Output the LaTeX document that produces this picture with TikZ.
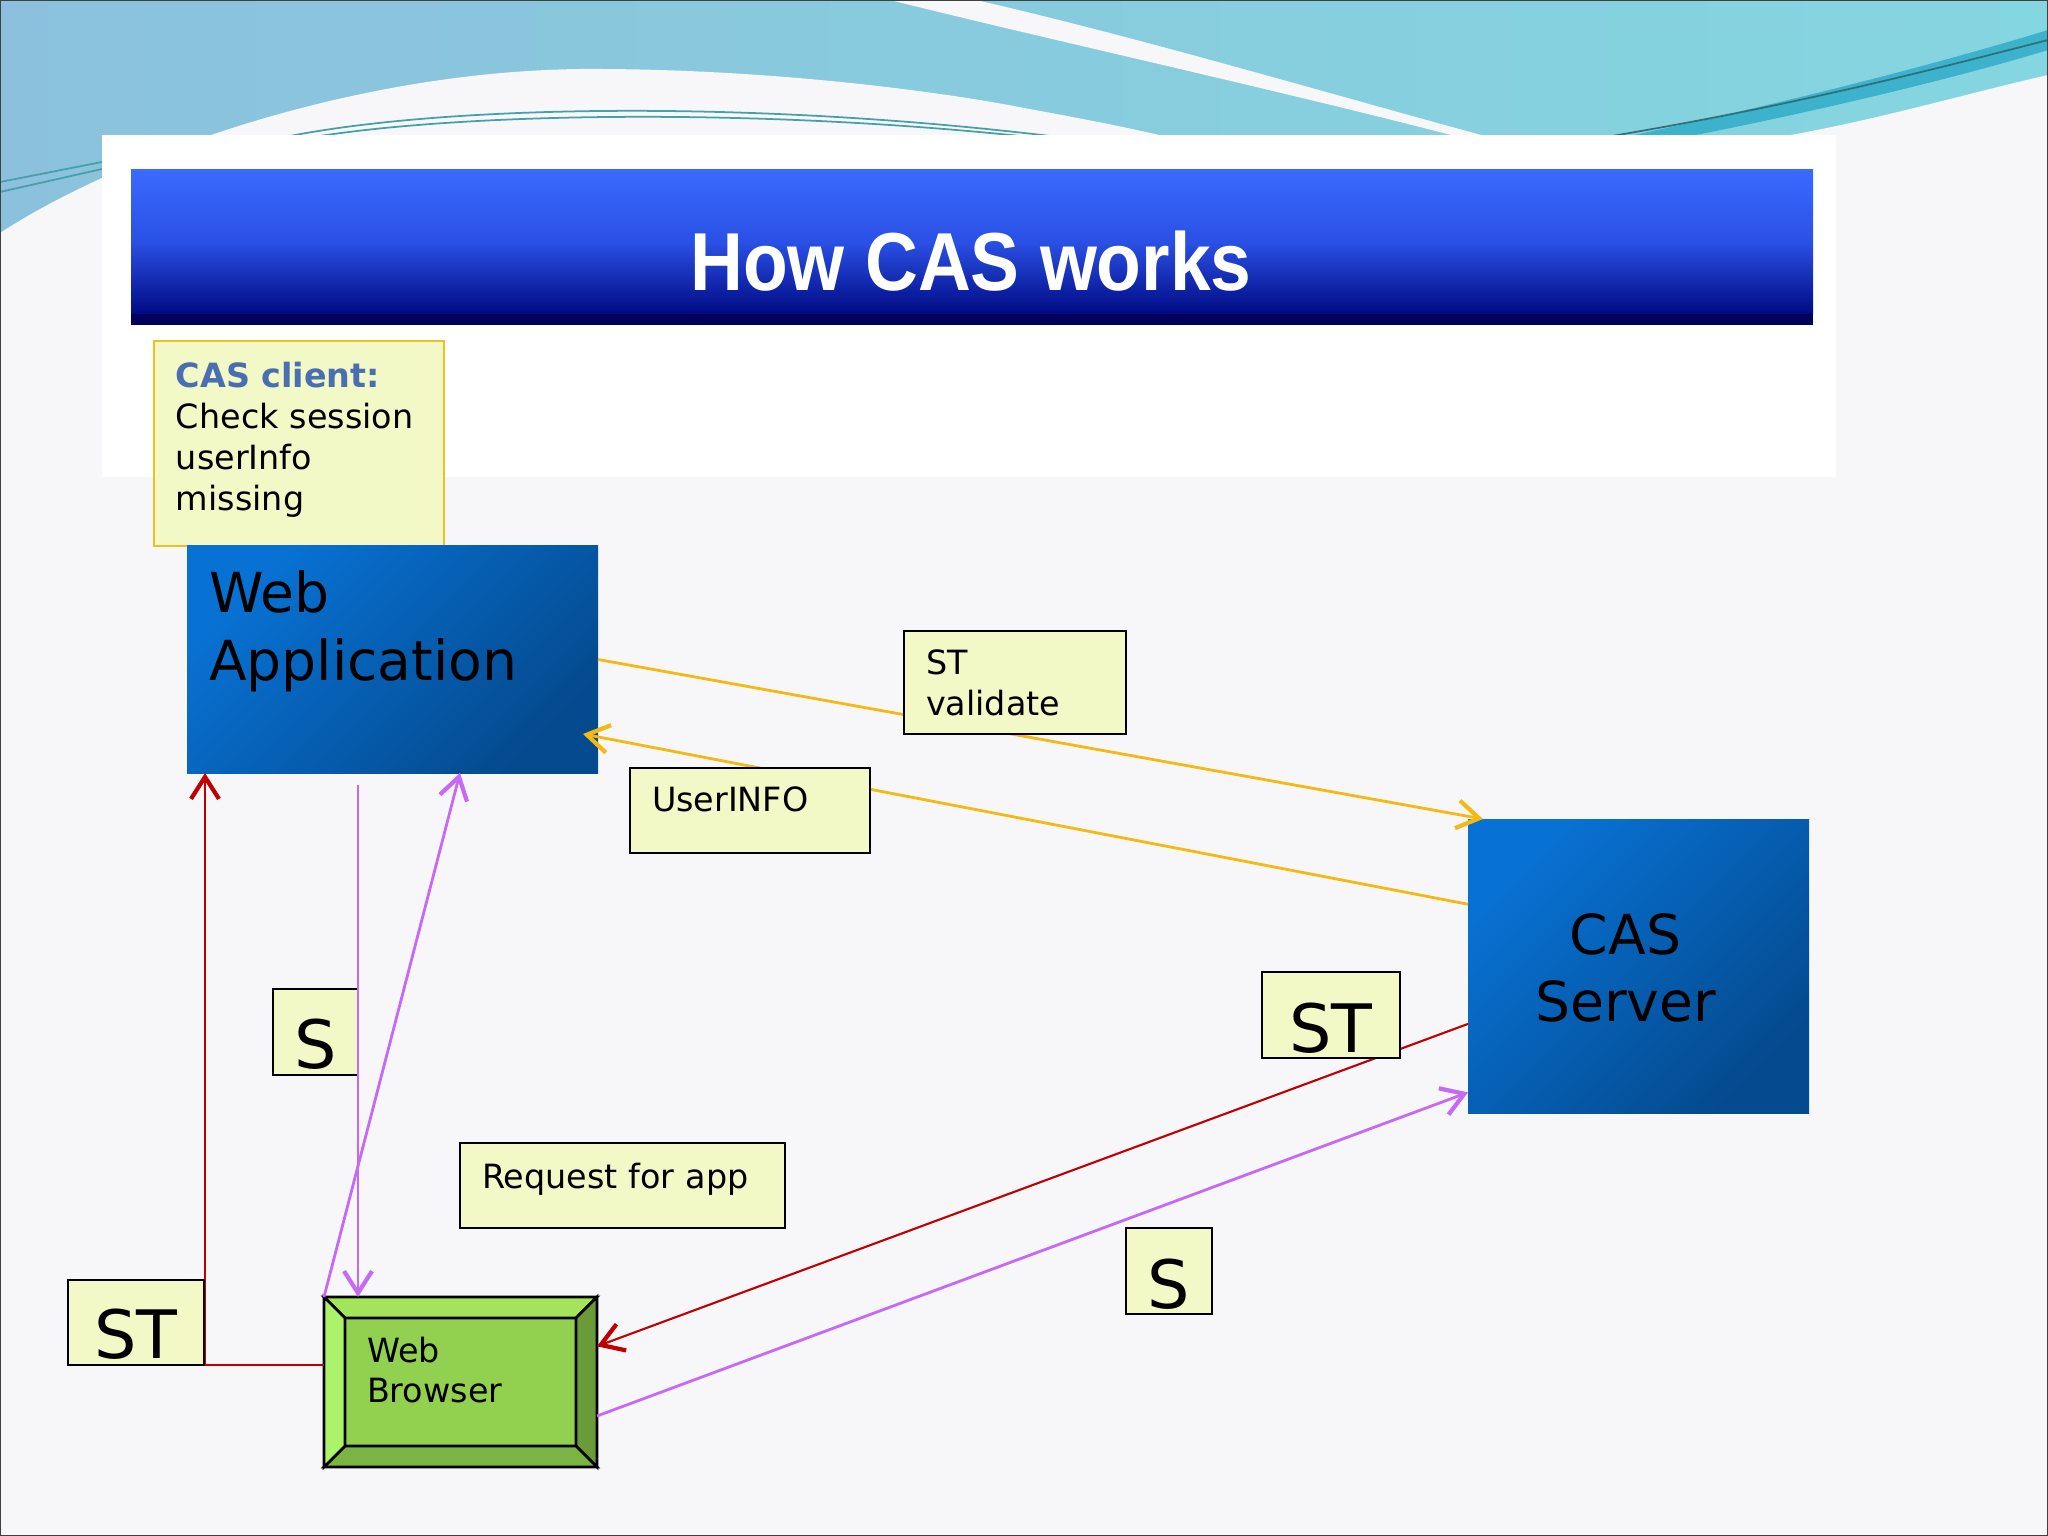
\documentclass[tikz,border=0pt]{standalone}
\usepackage{fontspec}
\setmainfont{DejaVu Sans}
\newfontfamily\titlefont{Liberation Sans}
\usepackage{xcolor}
\usepackage{graphicx}
\usepackage{tikz}
\usetikzlibrary{arrows.meta, positioning, calc}
\definecolor{casbg}{RGB}{247,247,250}
\definecolor{wavel}{RGB}{139,193,220}
\definecolor{waver}{RGB}{132,214,224}
\definecolor{waveline}{RGB}{70,160,168}
\definecolor{waveswoosh}{RGB}{60,178,205}
\definecolor{titletop}{RGB}{58,106,255}
\definecolor{titlemid}{RGB}{42,80,228}
\definecolor{titlebot}{RGB}{0,10,132}
\definecolor{titledark}{RGB}{0,0,92}
\definecolor{notefill}{RGB}{242,248,198}
\definecolor{clientborder}{RGB}{240,192,32}
\definecolor{clientblue}{RGB}{74,110,178}
\definecolor{boxbluea}{RGB}{8,114,212}
\definecolor{boxblueb}{RGB}{4,74,142}
\definecolor{stvalyellow}{RGB}{245,185,20}
\definecolor{sessionpurple}{RGB}{198,106,245}
\definecolor{ticketred}{RGB}{192,0,0}
\definecolor{browserface}{RGB}{146,208,80}
\definecolor{bevtop}{RGB}{163,228,90}
\definecolor{bevleft}{RGB}{171,243,106}
\definecolor{bevright}{RGB}{107,154,56}
\definecolor{bevbottom}{RGB}{122,180,67}

\tikzset{
  note/.style={draw=black, line width=0.6pt, fill=notefill, anchor=north west, outer sep=0pt,
    align=left, inner ysep=0pt, inner xsep=0.22cm, font=\fontsize{9.5}{11.6}\selectfont},
  bignote/.style={draw=black, line width=0.6pt, fill=notefill, anchor=north west, outer sep=0pt,
    align=center, inner sep=0pt, font=\fontsize{19}{22}\selectfont},
  serverbox/.style={anchor=north west, outer sep=0pt, inner ysep=0pt,
    top color=boxbluea, bottom color=boxblueb, shading angle=45,
    font=\fontsize{15.7}{19.3}\selectfont},
  flow/.style={line width=0.8pt, -{Straight Barb[length=2.2mm, width=2.8mm, line width=1.2pt]}},
}

\begin{document}
\begin{tikzpicture}[x=1cm, y=-1cm]
    \useasboundingbox (0,0) rectangle (20.48,15.36);
    % Sfondo della slide
    \fill[casbg] (0,0) rectangle (20.48,15.36);

    % Onde in alto
    \shade[left color=wavel, right color=waver] (0,0) rectangle (20.48,2.40);
    \fill[casbg] (0,2.33) .. controls (1.2,1.55) and (3.5,0.72) .. (5.8,0.69)
        .. controls (7.8,0.68) and (9.6,0.95) .. (10.24,1.08)
        .. controls (10.9,1.2) and (11.4,1.3) .. (11.8,1.40) -- (11.8,2.41) -- (0,2.41) -- cycle;
    \fill[casbg] (8.9,0) .. controls (10.5,0.4) and (13,0.95) .. (14.7,1.40)
        -- (15.0,1.40) .. controls (13.5,1.0) and (11.5,0.4) .. (9.76,0) -- cycle;
    \fill[casbg] (17.6,1.40) .. controls (18.6,1.25) and (19.6,0.95) .. (20.48,0.75)
        -- (20.48,2.41) -- (17.6,2.41) -- cycle;
    \fill[waveswoosh] (16.2,1.38) .. controls (18,1.0) and (19.5,0.6) .. (20.48,0.30)
        -- (20.48,0.50) .. controls (19.5,0.8) and (18,1.15) .. (16.8,1.38) -- cycle;
    \draw[waveline, line width=0.5pt] (2.9,1.36) .. controls (4.5,1.05) and (7.5,1.0) .. (10.5,1.36);
    \draw[waveline, line width=0.5pt] (3.2,1.36) .. controls (4.7,1.13) and (7.5,1.08) .. (10.2,1.36);
    \draw[waveline, line width=0.5pt] (0,1.82) -- (1.02,1.62);
    \draw[waveline, line width=0.5pt] (0,1.92) -- (1.02,1.69);
    \draw[waveline!70!black, line width=0.5pt] (16.0,1.38) .. controls (18,1.05) and (19.5,0.65) .. (20.48,0.40);

    % Pannello del titolo
    \fill[white] (1.02,1.35) rectangle (18.36,4.77);
    \shade[top color=titletop, bottom color=titlebot, middle color=titlemid] (1.31,1.70) rectangle (18.13,3.14);
    \fill[titledark] (1.31,3.14) rectangle (18.13,3.25);
    \node[anchor=base, text=white, font=\titlefont\bfseries\fontsize{23.4}{28}\selectfont] (title)
        at (9.71,2.91) {\scalebox{0.89}[1]{How CAS works}};

    % Nota del client
    \node[note, draw=clientborder, text width=2.46cm, text height=0.47cm, text depth=1.58cm] (client)
        at (1.54,3.41) {\textcolor{clientblue}{\bfseries CAS client:}\\Check session\\userInfo\\missing};

    % Applicazione e server
    \node[serverbox, align=left, inner xsep=0.22cm, text width=3.67cm, text height=0.67cm, text depth=1.60cm] (webapp)
        at (1.87,5.46) {Web\\Application};
    \node[serverbox, align=center, inner xsep=0.10cm, text width=3.21cm, text height=1.35cm, text depth=1.59cm] (casserver)
        at (14.68,8.19) {\hspace*{-0.26cm}CAS\\\hspace*{-0.26cm}Server};

    % Browser con bordo in rilievo
    \node[draw=black, line width=0.8pt, fill=browserface, anchor=north west, outer sep=0pt, align=left,
        inner ysep=0pt, inner xsep=0.43cm, text width=1.87cm, text height=0.65cm, text depth=1.05cm,
        font=\fontsize{9.5}{11.6}\selectfont] (browser) at (3.24,12.97) {Web\\Browser};
    \coordinate (bia) at ($(browser.north west)+(0.21,0.21)$);
    \coordinate (bib) at ($(browser.north east)+(-0.21,0.21)$);
    \coordinate (bic) at ($(browser.south east)+(-0.21,-0.21)$);
    \coordinate (bid) at ($(browser.south west)+(0.21,-0.21)$);
    \filldraw[fill=bevtop, line width=0.8pt] (browser.north west) -- (browser.north east) -- (bib) -- (bia) -- cycle;
    \filldraw[fill=bevright, line width=0.8pt] (browser.north east) -- (browser.south east) -- (bic) -- (bib) -- cycle;
    \filldraw[fill=bevbottom, line width=0.8pt] (browser.south east) -- (browser.south west) -- (bid) -- (bic) -- cycle;
    \filldraw[fill=bevleft, line width=0.8pt] (browser.south west) -- (browser.north west) -- (bia) -- (bid) -- cycle;

    \node[bignote, text width=0.85cm, text height=0.79cm, text depth=0.07cm] (sleft) at (2.73,9.89) {S};

    % Frecce del protocollo
    \draw[flow, stvalyellow] (webapp.east) -- ($(casserver.north west)+(0.15,0)$);
    \draw[flow, stvalyellow] ($(casserver.north west)!0.29!(casserver.south west)$)
        -- ($(webapp.south east)+(-0.15,-0.39)$);
    \draw[flow, ticketred, line width=0.6pt] ($(casserver.north west)!0.697!(casserver.south west)$)
        -- ($(browser.north east)!0.29!(browser.south east)$);
    \draw[flow, sessionpurple] ($(browser.north east)!0.70!(browser.south east)$)
        -- ($(casserver.north west)!0.93!(casserver.south west)$);
    \draw[flow, ticketred, line width=0.6pt] ($(browser.north west)!0.40!(browser.south west)$)
        -| ($(webapp.south west)+(0.18,0)$);
    \coordinate (sessstart) at ($(webapp.south west)+(1.71,0.12)$);
    \draw[flow, sessionpurple] (sessstart) -- (sessstart |- browser.north);
    \draw[flow, sessionpurple] (browser.north west) -- ($(webapp.south west)+(2.73,0)$);

    % Etichette
    \node[note, text width=1.78cm, text height=0.44cm, text depth=0.59cm] (stvalidate) at (9.04,6.31) {ST\\validate};
    \node[note, text width=1.96cm, text height=0.44cm, text depth=0.41cm] (userinfo) at (6.30,7.68) {UserINFO};
    \node[note, text width=2.81cm, text height=0.45cm, text depth=0.40cm] (request) at (4.60,11.43) {Request for app};
    \node[bignote, text width=1.36cm, text height=0.78cm, text depth=0.07cm] (stleft) at (0.68,12.80) {ST};
    \node[bignote, text width=1.38cm, text height=0.80cm, text depth=0.06cm] (stright) at (12.62,9.72) {ST};
    \node[bignote, text width=0.86cm, text height=0.80cm, text depth=0.06cm] (sright) at (11.26,12.28) {S};

    % Cornice
    \draw[black!75, line width=0.8pt] (0,0) rectangle (20.48,15.36);
\end{tikzpicture}
\end{document}
